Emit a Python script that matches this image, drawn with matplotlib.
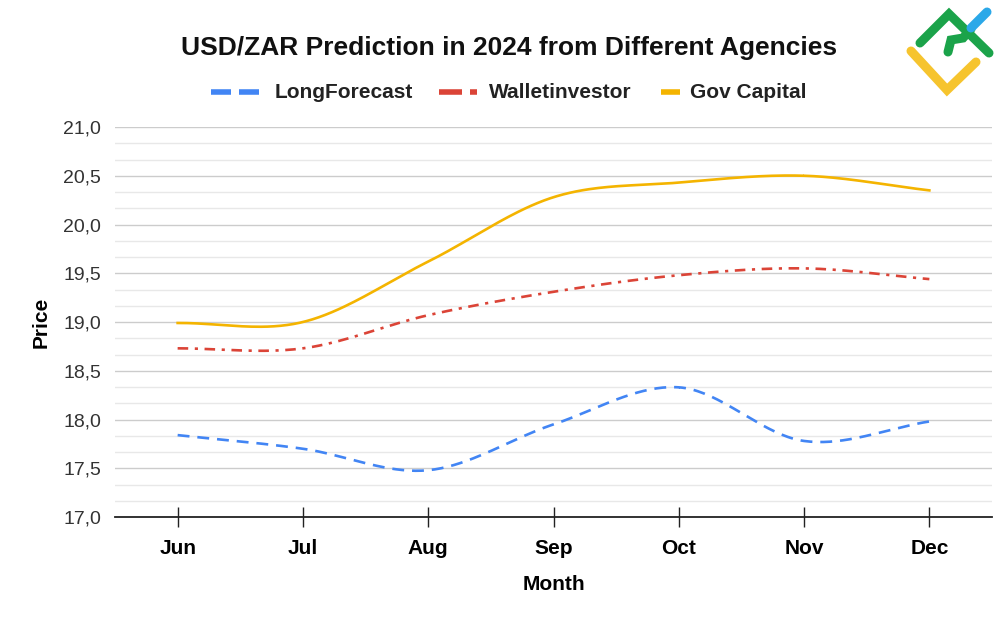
import numpy as np
import matplotlib
matplotlib.use("Agg")
import matplotlib.pyplot as plt
from matplotlib.lines import Line2D
from matplotlib.ticker import MultipleLocator, FuncFormatter

months = ["Jun", "Jul", "Aug", "Sep", "Oct", "Nov", "Dec"]
long_forecast = [17.84, 17.70, 17.48, 17.95, 18.33, 17.78, 17.98]
wallet_investor = [18.73, 18.73, 19.07, 19.31, 19.48, 19.55, 19.44]
gov_capital = [18.99, 19.00, 19.62, 20.28, 20.43, 20.50, 20.35]
series_names = ["LongForecast", "Walletinvestor", "Gov Capital"]
y_ticks = [17.0, 17.5, 18.0, 18.5, 19.0, 19.5, 20.0, 20.5, 21.0]

plt.rcParams['font.family'] = ['Liberation Sans', 'DejaVu Sans']


def smooth(xs, ys, n=40):
    xs = np.asarray(xs, float)
    ys = np.asarray(ys, float)
    px = np.concatenate([[2 * xs[0] - xs[1]], xs, [2 * xs[-1] - xs[-2]]])
    py = np.concatenate([[2 * ys[0] - ys[1]], ys, [2 * ys[-1] - ys[-2]]])
    outx, outy = [], []
    t = np.linspace(0, 1, n)
    for i in range(1, len(px) - 2):
        def cr(a, b, c, d):
            return 0.5 * ((2 * b) + (-a + c) * t + (2 * a - 5 * b + 4 * c - d) * t ** 2
                          + (-a + 3 * b - 3 * c + d) * t ** 3)
        outx.append(cr(px[i - 1], px[i], px[i + 1], px[i + 2]))
        outy.append(cr(py[i - 1], py[i], py[i + 1], py[i + 2]))
    return np.concatenate(outx), np.concatenate(outy)


fig = plt.figure(figsize=(10, 6.18), dpi=100)
ax = fig.add_axes([0.115, 0.1634, 0.877, 0.6311])

x = np.arange(len(months))
blue = "#4285F4"
red = "#DB4437"
yellow = "#F4B400"

sx, sy = smooth(x, long_forecast)
ax.plot(sx, sy, color=blue, lw=1.9, dashes=(4.5, 3), zorder=3)
sx, sy = smooth(x, wallet_investor)
ax.plot(sx, sy, color=red, lw=1.9, dashes=(4, 2.5, 1.2, 2.5), zorder=3)
sx, sy = smooth(x, gov_capital)
ax.plot(sx, sy, color=yellow, lw=1.9, zorder=3)

ax.set_xlim(-0.5, len(months) - 0.5)
ax.set_ylim(17.0, 21.0)
ax.set_yticks(y_ticks)
ax.yaxis.set_minor_locator(MultipleLocator(0.5 / 3))
ax.yaxis.set_major_formatter(FuncFormatter(lambda v, p: f"{v:.1f}".replace(".", ",")))
ax.set_xticks(x)
ax.set_xticklabels(months, fontsize=15, fontweight='bold')
ax.tick_params(axis='y', length=0, labelsize=14, colors='#333333', pad=10, which='both')
ax.tick_params(axis='x', direction='inout', length=14, width=1, color='#222222', pad=9)
ax.grid(axis='y', which='major', color='#cccccc', lw=1)
ax.grid(axis='y', which='minor', color='#e8e8e8', lw=1)
for s in ['top', 'right', 'left']:
    ax.spines[s].set_visible(False)
ax.spines['bottom'].set_color('#222222')
ax.spines['bottom'].set_linewidth(1.3)
ax.set_axisbelow(True)

ax.set_xlabel("Month", fontsize=15, fontweight='bold', labelpad=12)
ax.set_ylabel("Price", fontsize=15, fontweight='bold', labelpad=9)

fig.text(0.509, 0.923, "USD/ZAR Prediction in 2024 from Different Agencies",
         ha='center', va='center', fontsize=19, fontweight='bold', color='#111111')


def fx(px):
    return px / 1000.0


def fy(py):
    return 1 - py / 618.0


# legend drawn manually (handles have different lengths, as in the reference)
leg_y = 92
legend_handles = [
    (blue, [(211, 231), (239, 259)]),
    (red, [(439, 462), (470, 477)]),
    (yellow, [(661, 680)]),
]
legend_text_x = [275, 489, 690]
for (col, segs), tx, name in zip(legend_handles, legend_text_x, series_names):
    for a, b in segs:
        fig.add_artist(Line2D([fx(a), fx(b)], [fy(leg_y), fy(leg_y)], color=col, lw=4,
                              solid_capstyle='butt', transform=fig.transFigure))
    fig.text(fx(tx), fy(leg_y), name, ha='left', va='center', fontsize=15,
             fontweight='bold', color='#222222')

# logo
logo = [
    ("#F6C42E", [(911, 51), (947, 90), (976, 62)]),
    ("#1BA34A", [(920, 43), (949, 14), (989, 53)]),
    ("#1BA34A", [(948, 52), (951, 40), (963, 38), (971, 29)]),
    ("#2BA8E8", [(971, 28), (987, 12)]),
]
for col, pts in logo:
    xs = [fx(p[0]) for p in pts]
    ys = [fy(p[1]) for p in pts]
    fig.add_artist(Line2D(xs, ys, color=col, lw=6.5, solid_capstyle='round',
                          solid_joinstyle='miter', transform=fig.transFigure))

fig.savefig("out.png", dpi=100, facecolor='white')
